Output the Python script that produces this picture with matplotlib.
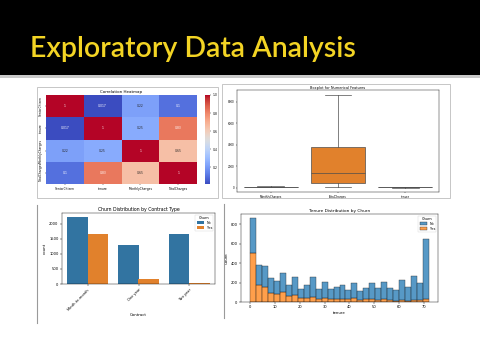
import numpy as np
import matplotlib
matplotlib.use("Agg")
import matplotlib.pyplot as plt
from matplotlib.patches import Rectangle, Patch

# ---------------- data ----------------
slide_title = "Exploratory Data Analysis"

corr_labels = ["SeniorCitizen", "tenure", "MonthlyCharges", "TotalCharges"]
corr_values = [
    [1.0, 0.017, 0.22, 0.1],
    [0.017, 1.0, 0.25, 0.83],
    [0.22, 0.25, 1.0, 0.65],
    [0.1, 0.83, 0.65, 1.0],
]
corr_text = [
    ["1", "0.017", "0.22", "0.1"],
    ["0.017", "1", "0.25", "0.83"],
    ["0.22", "0.25", "1", "0.65"],
    ["0.1", "0.83", "0.65", "1"],
]

box_labels = ["MonthlyCharges", "TotalCharges", "tenure"]
box_min = [18.25, 18.8, 0]
box_q1 = [35.5, 401.45, 9]
box_med = [70.35, 1397.5, 29]
box_q3 = [89.85, 3794.7, 55]
box_max = [118.75, 8684.8, 72]

contracts = ["Month-to-month", "One year", "Two year"]
churn_no = [2220, 1307, 1647]
churn_yes = [1655, 166, 48]

tenure_total = [862, 376, 374, 242, 215, 302, 179, 257, 134, 175,
                252, 129, 209, 133, 153, 174, 120, 200, 112, 142,
                198, 148, 202, 145, 127, 222, 152, 263, 195, 651]
tenure_yes = [500, 175, 155, 90, 80, 100, 65, 70, 40, 45,
              55, 35, 45, 30, 35, 30, 30, 45, 20, 30,
              30, 20, 30, 20, 15, 25, 15, 25, 20, 30]
tenure_no = [t - y for t, y in zip(tenure_total, tenure_yes)]

# ---------------- figure ----------------
W, H = 480, 360
fig = plt.figure(figsize=(4.8, 3.6), dpi=100)
fig.patch.set_facecolor("white")


def fx(px):
    return px / W


def fy(py):
    return 1 - py / H


def axbox(x0, y0, x1, y1):
    return [fx(x0), fy(y1), fx(x1 - x0), (y1 - y0) / H]


# black title band
fig.patches.append(Rectangle((0, fy(75)), 1, 75 / H, transform=fig.transFigure,
                             facecolor="black", edgecolor="none", zorder=0))
fig.patches.append(Rectangle((0, fy(78)), 1, 3 / H, transform=fig.transFigure,
                             facecolor="#c9c9c9", edgecolor="none", zorder=0))
fig.text(fx(30), fy(56.5), slide_title, color="#f3d424", fontsize=20.5,
         family="Lato", fontweight="semibold", va="baseline", ha="left")

# panel frames
for (x0, y0, x1, y1) in [(37, 87, 218, 198), (222, 84, 450, 198)]:
    fig.patches.append(Rectangle((fx(x0), fy(y1)), fx(x1 - x0), (y1 - y0) / H,
                                 transform=fig.transFigure, facecolor="none",
                                 edgecolor="#bdbdbd", lw=0.6, zorder=0))
for (x, y0, y1) in [(37, 205, 323), (224, 204, 318)]:
    fig.lines.append(plt.Line2D([fx(x), fx(x)], [fy(y0), fy(y1)],
                                transform=fig.transFigure, color="#9a9a9a", lw=0.8))

tiny = 2.2
blue_s, orange_s, green_s = "#3274a1", "#e1812c", "#3a923a"

# ---------------- heatmap ----------------
axh = fig.add_axes(axbox(46, 95, 197, 184))
arr = np.array(corr_values)
vmin = arr.min()
im = axh.pcolormesh(arr, cmap="coolwarm", vmin=vmin, vmax=1.0)
axh.set_ylim(len(corr_labels), 0)
cmap = plt.get_cmap("coolwarm")
for i in range(len(corr_labels)):
    for j in range(len(corr_labels)):
        v = arr[i, j]
        rgba = cmap((v - vmin) / (1 - vmin))
        lum = 0.2126 * rgba[0] + 0.7152 * rgba[1] + 0.0722 * rgba[2]
        axh.text(j + 0.5, i + 0.5, corr_text[i][j], ha="center", va="center",
                 fontsize=tiny, color="white" if lum < 0.6 else "#262626")
axh.set_xticks(np.arange(len(corr_labels)) + 0.5)
axh.set_yticks(np.arange(len(corr_labels)) + 0.5)
axh.set_xticklabels(corr_labels, fontsize=tiny)
axh.set_yticklabels(corr_labels, fontsize=tiny, rotation=90, va="center")
axh.tick_params(length=1, width=0.3, pad=1)
for s in axh.spines.values():
    s.set_visible(False)
axh.set_title("Correlation Heatmap", fontsize=2.9, pad=1.5)
cax = fig.add_axes(axbox(205, 95, 210, 184))
cb = fig.colorbar(im, cax=cax)
cb.set_ticks([0.2, 0.4, 0.6, 0.8, 1.0])
cb.ax.tick_params(labelsize=tiny, length=1, width=0.3, pad=1)
cb.outline.set_visible(False)

# ---------------- boxplot ----------------
axb = fig.add_axes(axbox(237, 90, 439, 192))
stats = []
for k in range(len(box_labels)):
    stats.append(dict(label=box_labels[k], whislo=box_min[k], q1=box_q1[k],
                      med=box_med[k], q3=box_q3[k], whishi=box_max[k], fliers=[]))
lc = "#4d4d4d"
bp = axb.bxp(stats, widths=0.8, patch_artist=True, showfliers=False,
             boxprops=dict(edgecolor=lc, lw=0.5),
             whiskerprops=dict(color=lc, lw=0.5),
             capprops=dict(color=lc, lw=0.5),
             medianprops=dict(color=lc, lw=0.5))
for patch, c in zip(bp["boxes"], [blue_s, orange_s, green_s]):
    patch.set_facecolor(c)
axb.set_xlim(0.5, 3.5)
axb.set_ylim(-420, 9120)
axb.set_yticks([0, 2000, 4000, 6000, 8000])
axb.tick_params(labelsize=2.0, length=1, width=0.3, pad=1)
for s in axb.spines.values():
    s.set_linewidth(0.3)
axb.set_title("Boxplot for Numerical Features", fontsize=2.5, pad=1)

# ---------------- countplot ----------------
axc = fig.add_axes(axbox(62, 213, 215, 284))
x = np.arange(len(contracts))
axc.bar(x - 0.2, churn_no, width=0.4, color=blue_s, label="No")
axc.bar(x + 0.2, churn_yes, width=0.4, color=orange_s, label="Yes")
axc.set_xlim(-0.5, 2.5)
axc.set_ylim(0, 2360)
axc.set_xticks(x)
axc.set_xticklabels(contracts, rotation=45, ha="right", rotation_mode="anchor")
axc.set_yticks([0, 500, 1000, 1500, 2000])
axc.tick_params(labelsize=2.6, length=1.5, width=0.3, pad=1)
axc.set_xlabel("Contract", fontsize=2.8, labelpad=1.5)
axc.set_ylabel("count", fontsize=2.8, labelpad=1.5)
for s in axc.spines.values():
    s.set_linewidth(0.3)
axc.set_title("Churn Distribution by Contract Type", fontsize=3.3, pad=1.5)
lg = axc.legend(title="Churn", fontsize=2.4, title_fontsize=2.6, loc="upper right",
                frameon=True, handlelength=2.2, handleheight=0.9, borderpad=0.4,
                labelspacing=0.3)
lg.get_frame().set_linewidth(0.3)

# ---------------- histogram ----------------
axt = fig.add_axes(axbox(241, 214, 438, 302))
edges = np.linspace(0, 72, len(tenure_total) + 1)
bw = edges[1] - edges[0]
axt.bar(edges[:-1], tenure_yes, width=bw, align="edge", color="#ff7f0e", alpha=0.75,
        edgecolor="#222222", lw=0.35, label="Yes")
axt.bar(edges[:-1], tenure_no, width=bw, bottom=tenure_yes, align="edge",
        color="#1f77b4", alpha=0.75, edgecolor="#222222", lw=0.35, label="No")
axt.set_xlim(-3.6, 75.6)
axt.set_ylim(0, 905)
axt.set_xticks(np.arange(0, 71, 10))
axt.set_yticks([0, 200, 400, 600, 800])
axt.tick_params(labelsize=2.6, length=1.5, width=0.3, pad=1)
axt.set_xlabel("tenure", fontsize=2.8, labelpad=1)
axt.set_ylabel("Count", fontsize=2.8, labelpad=1.5)
for s in axt.spines.values():
    s.set_linewidth(0.3)
axt.set_title("Tenure Distribution by Churn", fontsize=3.1, pad=1.5)
handles = [Patch(facecolor="#1f77b4", alpha=0.75, edgecolor="#222222", lw=0.35),
           Patch(facecolor="#ff7f0e", alpha=0.75, edgecolor="#222222", lw=0.35)]
lg2 = axt.legend(handles, ["No", "Yes"], title="Churn", fontsize=2.4, title_fontsize=2.6,
                 loc="upper right", frameon=True, handlelength=2.2, handleheight=0.9,
                 borderpad=0.4, labelspacing=0.3)
lg2.get_frame().set_linewidth(0.3)

fig.savefig("out.png", dpi=100)
